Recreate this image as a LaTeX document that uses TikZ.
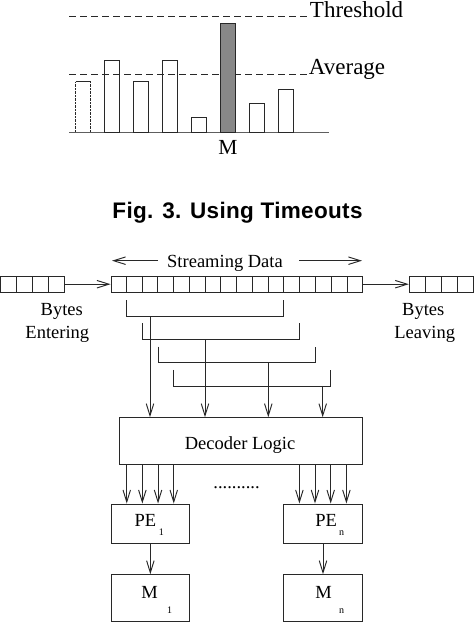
\documentclass[tikz,border=0pt]{standalone}
\usepackage{fontspec}
\setmainfont{Liberation Serif}
\newfontfamily\capfont[LetterSpace=1.5]{Liberation Sans}
\usetikzlibrary{arrows.meta,calc}
\definecolor{ln}{RGB}{40,40,40}
\definecolor{barg}{RGB}{136,136,136}
\tikzset{
  arr/.style={-{Straight Barb[length=12pt,width=7.5pt]}},
  box/.style={draw=ln, rectangle, inner sep=0pt},
  ser/.style={font=\fontsize{18.5}{22}\selectfont, inner sep=0pt, anchor=base, text=black},
  chartlbl/.style={font=\fontsize{23}{26}\selectfont, inner sep=0pt, anchor=base west, text=black},
  subtxt/.style={font=\fontsize{10}{12}\selectfont, inner sep=0pt, anchor=base, text=black},
  dline/.style={dash pattern=on 7pt off 4pt},
  bar/.style={draw=ln},
}
\begin{document}
\begin{tikzpicture}[x=1pt,y=-1pt,line width=0.95pt,color=ln]
\useasboundingbox (0,0) rectangle (474,623);
% ---------- chart ----------
\draw[ln!75] (69,132.3) -- (329,132.3);
\draw[dline] (69,16) -- (307,16);
\draw[dline] (69,74) -- (307,74);
\node[chartlbl] (thr) at (309.5,17.3) {Threshold};
\node[chartlbl] (avg) at (308.5,74.7) {Average};
% bar 1 with dashed sides
\draw[bar] (75.7,81.7) -- (90.7,81.7);
\draw[bar,dash pattern=on 2.5pt off 1pt] (75.7,132.3) -- (75.7,81.7);
\draw[bar,dash pattern=on 2.5pt off 1pt] (90.7,132.3) -- (90.7,81.7);
\foreach \xl/\yt in {104.7/60, 133.3/81.7, 162.3/60, 191.3/117.7, 249.3/103.3, 278.3/89}
  \draw[bar] (\xl,132.3) rectangle ({\xl+15},\yt);
\filldraw[bar,fill=barg] (220.3,132.3) rectangle (235.3,23.7);
\node[font=\fontsize{21.5}{24}\selectfont, inner sep=0pt, anchor=base, text=black] (mlab) at (228,154) {M};
% ---------- caption ----------
\node[font=\capfont\bfseries\fontsize{22.5}{25}\selectfont, inner sep=0pt, anchor=base, text=black] (cap) at (237.5,218) {Fig. 3. Using Timeouts};
% ---------- registers ----------
\node[box, minimum width=63.5pt, minimum height=16.3pt] (regL) at (32.25,284.2) {};
\node[box, minimum width=251.3pt, minimum height=16.3pt] (regM) at (236.65,284.2) {};
\node[box, minimum width=64pt, minimum height=16.3pt] (regR) at (441.3,284.2) {};
\foreach \i in {1,2,3}{
  \draw ($(regL.south west)!\i/4!(regL.south east)$) -- ($(regL.north west)!\i/4!(regL.north east)$);
  \draw ($(regR.south west)!\i/4!(regR.south east)$) -- ($(regR.north west)!\i/4!(regR.north east)$);
}
\foreach \i in {1,...,15}
  \draw ($(regM.south west)!\i/16!(regM.south east)$) -- ($(regM.north west)!\i/16!(regM.north east)$);
\draw[arr] (regL.east) -- (regM.west);
\draw[arr] (regM.east) -- (regR.west);
% streaming data
\node[ser] (sd) at (225,267.5) {Streaming Data};
\coordinate (sdLa) at (158,260.7);
\coordinate (sdLb) at (112,260.7);
\coordinate (sdRa) at (299,260.7);
\coordinate (sdRb) at (362,260.7);
\draw[arr] (sdLa) -- (sdLb);
\draw[arr] (sdRa) -- (sdRb);
% bytes labels
\node[ser] (be1) at (61.8,315.7) {Bytes};
\node[ser] (be2) at (57.3,338.7) {Entering};
\node[ser] (bl1) at (423.3,315.7) {Bytes};
\node[ser] (bl2) at (424.7,338.7) {Leaving};
% ---------- decoder ----------
\node[box, minimum width=243.3pt, minimum height=46.6pt] (dec) at (240.65,441) {};
\node[ser] (dect) at (240,449) {Decoder Logic};
% brackets
\foreach \k/\vx in {0/150,1/205,2/268.3,3/322.7}{
  \pgfmathsetmacro\xl{111+(\k+1)*15.706}
  \pgfmathsetmacro\xr{111+(\k+11)*15.706}
  \pgfmathsetmacro\yt{300+\k*23.33}
  \pgfmathsetmacro\yb{316+\k*23.33}
  \draw (\xl,\yt) -- (\xl,\yb) -- (\xr,\yb) -- (\xr,\yt);
  \coordinate (br\k) at (\vx,\yb);
  \draw[arr] (br\k) -- (br\k |- dec.north);
}
% ---------- PEs ----------
\node[box, minimum width=78.7pt, minimum height=39.3pt] (pe1) at (150.35,523.65) {};
\node[box, minimum width=78.7pt, minimum height=39.3pt] (pen) at (323,523.65) {};
\node[ser] (pe1t) at (145.5,526) {PE};
\node[subtxt] (pe1s) at (161.3,535) {1};
\node[ser] (pent) at (326.2,526) {PE};
\node[subtxt] (pens) at (341.5,535) {n};
\foreach \o in {-23.6,-8,7.7,23.4}{
  \draw[arr] ([xshift=\o pt]pe1.north |- dec.south) -- ([xshift=\o pt]pe1.north);
  \draw[arr] ([xshift=\o pt]pen.north |- dec.south) -- ([xshift=\o pt]pen.north);
}
\node[ser] (dots) at (236.5,488) {..........};
% ---------- memories ----------
\node[box, minimum width=78.7pt, minimum height=47pt] (m1) at (150.35,598.2) {};
\node[box, minimum width=78.7pt, minimum height=47pt] (mn) at (323,598.2) {};
\node[ser] (m1t) at (149.7,598.3) {M};
\node[subtxt] (m1s) at (169.5,613) {1};
\node[ser] (mnt) at (323.7,598.3) {M};
\node[subtxt] (mns) at (341.5,613) {n};
\draw[arr] (pe1) -- (m1);
\draw[arr] (pen) -- (mn);
\end{tikzpicture}
\end{document}
